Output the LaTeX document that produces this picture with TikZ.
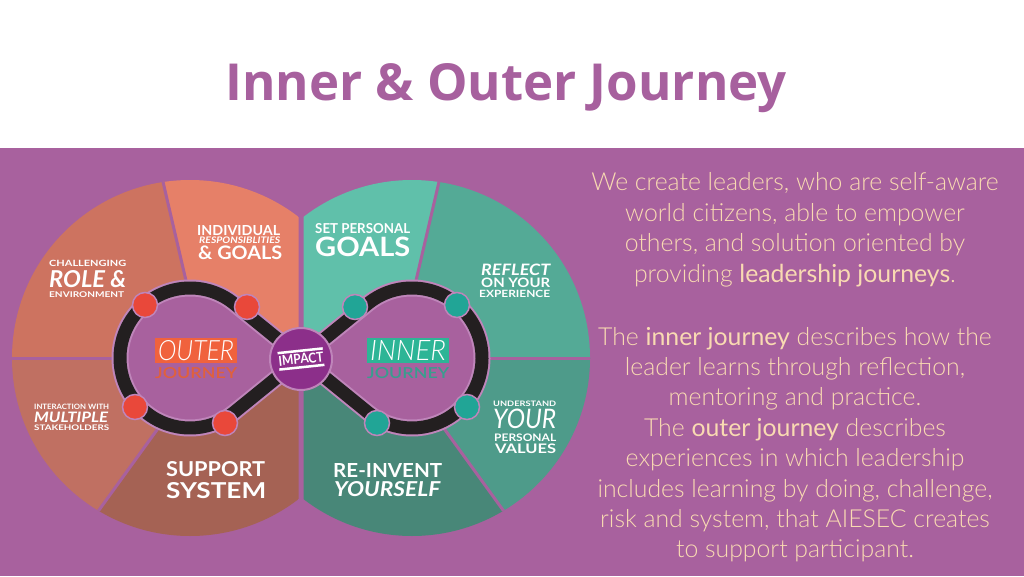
\documentclass[tikz,border=0pt]{standalone}
\usepackage{fontspec}
\usepackage{graphicx}
\setmainfont{Lato}
\newfontfamily\titlefont{Open Sans}
\newfontfamily\lightfont{Lato Light}
\definecolor{bgpurple}{HTML}{A8619E}
\definecolor{titlepurple}{HTML}{A7609E}
\definecolor{chalcol}{HTML}{CD7360}
\definecolor{indivcol}{HTML}{E68068}
\definecolor{intercol}{HTML}{C07062}
\definecolor{suppcol}{HTML}{A56254}
\definecolor{goalcol}{HTML}{60C0AA}
\definecolor{reflcol}{HTML}{54AA96}
\definecolor{undercol}{HTML}{4E9B8A}
\definecolor{reincol}{HTML}{488778}
\definecolor{ringblack}{HTML}{231F20}
\definecolor{ringedge}{HTML}{BF85BA}
\definecolor{dotred}{HTML}{E9483A}
\definecolor{dotteal}{HTML}{21A596}
\definecolor{impactcol}{HTML}{8C2F8A}
\definecolor{outerbox}{HTML}{F0623D}
\definecolor{innerbox}{HTML}{2DB596}
\definecolor{outerjour}{HTML}{E0603C}
\definecolor{innerjour}{HTML}{3A9D8E}
\definecolor{peach}{HTML}{F9DAB2}
\newcommand{\capfit}[3]{\resizebox{#1pt}{#2pt}{#3}}
\newcommand{\hl}[1]{{\rmfamily #1}}
\tikzset{
	lbl/.style={anchor=base west, inner sep=0pt, text=white, font=\bfseries},
	sep/.style={draw=bgpurple, line width=3pt},
	jdot/.style={circle, draw=ringedge, line width=1.5pt, minimum size=25pt, inner sep=0pt},
	para/.style={anchor=base, inner sep=0pt, text=peach, font=\lightfont\fontsize{24.8}{30}\selectfont},
	}

\begin{document}
\begin{tikzpicture}[x=1pt, y=1pt]

	% background
	\fill[white] (0,428) rectangle (1024,576);
	\fill[bgpurple] (0,0) rectangle (1024,428);
	\useasboundingbox (0,0) rectangle (1024,576);

	% title
	\node[anchor=base, inner sep=0pt, text=titlepurple, font=\titlefont\bfseries\fontsize{51}{56}\selectfont] (title) at (506,475) {Inner \& Outer Journey};

	% centres of the two halves
	\coordinate (lc) at (190,218);
	\coordinate (rc) at (412,218);

	% left half (outer journey)
	\begin{scope}
		\clip (lc) circle (178pt);
		\clip (0,0) rectangle (298.5,428);
		\fill[indivcol] (204,218) -- (157,420) -- (310,420) -- (310,218) -- cycle;
		\fill[chalcol] (204,218) -- (157,420) -- (0,420) -- (0,218) -- cycle;
		\fill[intercol] (209,218) -- (73,30) -- (0,30) -- (0,218) -- cycle;
		\fill[suppcol] (209,218) -- (73,30) -- (310,30) -- (310,218) -- cycle;
		\draw[sep] (204,218) -- (157,420);
		\draw[sep] (0,218) -- (190,218);
		\draw[sep] (209,218) -- (73,30);
	\end{scope}

	% right half (inner journey)
	\begin{scope}
		\clip (rc) circle (178pt);
		\clip (303.5,0) rectangle (610,428);
		\fill[goalcol] (398,218) -- (445,420) -- (292,420) -- (292,218) -- cycle;
		\fill[reflcol] (398,218) -- (445,420) -- (602,420) -- (602,218) -- cycle;
		\fill[undercol] (393,218) -- (529,30) -- (602,30) -- (602,218) -- cycle;
		\fill[reincol] (393,218) -- (529,30) -- (292,30) -- (292,218) -- cycle;
		\draw[sep] (398,218) -- (445,420);
		\draw[sep] (412,218) -- (602,218);
		\draw[sep] (393,218) -- (529,30);
	\end{scope}

	% infinity loop
	\path[fill=bgpurple, draw=ringedge, line width=17pt, line join=round] (lc) ++(51:70pt) arc[start angle=51, end angle=309, radius=70pt] -- ([shift={(129:70pt)}]rc) arc[start angle=129, end angle=-129, radius=70pt] -- cycle;
	\draw[ringblack, line width=13pt, line join=round] (lc) ++(51:70pt) arc[start angle=51, end angle=309, radius=70pt] -- ([shift={(129:70pt)}]rc) arc[start angle=129, end angle=-129, radius=70pt] -- cycle;

	% dots on the loop
	\node[jdot, fill=dotred] (od1) at (145,271) {};
	\node[jdot, fill=dotred] (od2) at (247,269) {};
	\node[jdot, fill=dotred] (od3) at (135,169) {};
	\node[jdot, fill=dotred] (od4) at (225,153) {};
	\node[jdot, fill=dotteal] (id1) at (457,271) {};
	\node[jdot, fill=dotteal] (id2) at (355,269) {};
	\node[jdot, fill=dotteal] (id3) at (467,169) {};
	\node[jdot, fill=dotteal] (id4) at (377,153) {};

	% impact
	\node[circle, fill=impactcol, draw=ringedge, line width=2pt, minimum size=62pt] (impact) at (301,217) {};
	\node[rotate=6, inner xsep=0pt, inner ysep=3pt, text=white, font=\bfseries] (impacttxt) at (impact) {\capfit{45}{10}{IMPACT}};
	\draw[white, line width=2.5pt] (impacttxt.north west) -- (impacttxt.north east);
	\draw[white, line width=2.5pt] (impacttxt.south west) -- (impacttxt.south east);

	% journey names
	\node[fill=outerbox, inner xsep=3pt, inner ysep=2pt, text=white] (outer) at (196,225.5) {\capfit{76}{20}{\lightfont\itshape OUTER}};
	\node[lbl, text=outerjour] (outerj) at (155,198) {\capfit{82}{11}{\lightfont JOURNEY}};
	\node[fill=innerbox, inner xsep=3pt, inner ysep=2pt, text=white] (inner) at (408,225.5) {\capfit{76}{20}{\lightfont\itshape INNER}};
	\node[lbl, text=innerjour] (innerj) at (367,198) {\capfit{82}{11}{\lightfont JOURNEY}};

	% segment labels, left
	\node[lbl] (chal1) at (49,309) {\capfit{77}{6.3}{CHALLENGING}};
	\node[lbl] (chal2) at (49,288.5) {\capfit{77}{17}{\itshape ROLE \&}};
	\node[lbl] (chal3) at (49,279) {\capfit{75}{5.8}{ENVIRONMENT}};
	\node[lbl] (indiv1) at (197,340.5) {\capfit{83}{10}{INDIVIDUAL}};
	\node[lbl] (indiv2) at (199,332) {\capfit{81}{6.6}{\itshape RESPONSIBLITIES}};
	\node[lbl] (indiv3) at (198,316.7) {\capfit{84}{13.6}{\& GOALS}};
	\node[lbl] (inter1) at (34,166.3) {\capfit{75}{5.4}{INTERACTION WITH}};
	\node[lbl] (inter2) at (34,154) {\capfit{74}{10.4}{\itshape MULTIPLE}};
	\node[lbl] (inter3) at (34,145.8) {\capfit{75}{5.6}{STAKEHOLDERS}};
	\node[lbl] (supp1) at (166,100) {\capfit{99}{15}{SUPPORT}};
	\node[lbl] (supp2) at (166,78) {\capfit{100}{16}{SYSTEM}};

	% segment labels, right
	\node[lbl] (goal1) at (315,342) {\capfit{95}{10}{SET PERSONAL}};
	\node[lbl] (goal2) at (315,319) {\capfit{95}{19.5}{GOALS}};
	\node[lbl] (refl1) at (481,300) {\capfit{69}{11.5}{\itshape REFLECT}};
	\node[lbl] (refl2) at (481,288) {\capfit{69}{9.5}{ON YOUR}};
	\node[lbl] (refl3) at (479,278) {\capfit{71}{7.3}{EXPERIENCE}};
	\node[lbl] (under1) at (493,169.5) {\capfit{63}{5.5}{UNDERSTAND}};
	\node[lbl] (under2) at (493,148) {\capfit{63}{19.5}{\mdseries\itshape YOUR}};
	\node[lbl] (under3) at (494,134.5) {\capfit{62}{7.6}{PERSONAL}};
	\node[lbl] (under4) at (495,123) {\capfit{61}{9.6}{VALUES}};
	\node[lbl] (rein1) at (333,99) {\capfit{109}{14}{RE-INVENT}};
	\node[lbl] (rein2) at (334,80) {\capfit{106}{15}{\itshape YOURSELF}};

	% text on the right
	\node[para] (p1) at (795,385) {We create leaders, who are self-aware};
	\node[para] (p2) at (795,354.6) {world citizens, able to empower};
	\node[para] (p3) at (795,324.2) {others, and solution oriented by};
	\node[para] (p4) at (795,293.8) {providing \hl{leadership journeys}.};
	\node[para] (p5) at (795,231) {The \hl{inner journey} describes how the};
	\node[para] (p6) at (795,200.6) {leader learns through reflection,};
	\node[para] (p7) at (795,170.2) {mentoring and practice.};
	\node[para] (p8) at (795,139.8) {The \hl{outer journey} describes};
	\node[para] (p9) at (795,109.4) {experiences in which leadership};
	\node[para] (p10) at (795,79) {includes learning by doing, challenge,};
	\node[para] (p11) at (795,48.6) {risk and system, that AIESEC creates};
	\node[para] (p12) at (795,18.2) {to support participant.};

\end{tikzpicture}
\end{document}
